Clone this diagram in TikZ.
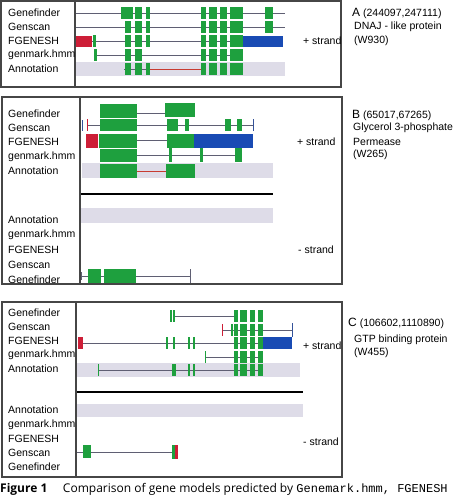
\documentclass[tikz,border=0pt]{standalone}
\usepackage{fontspec}
\setmainfont{Liberation Sans}
\newfontfamily\capfont{Open Sans}
\newfontfamily\capmono{Liberation Mono}
\definecolor{exg}{RGB}{30,160,62}
\definecolor{exr}{RGB}{205,30,55}
\definecolor{exb}{RGB}{25,75,180}
\definecolor{band}{RGB}{222,220,232}
\definecolor{trk}{RGB}{95,95,115}
\definecolor{frm}{RGB}{70,70,70}
\definecolor{anr}{RGB}{200,60,50}
\newcommand\ex[3]{\fill[exg] (#1,{#3-6}) rectangle (#2,{#3+6});}
\newcommand\exh[4]{\fill[exg] (#1,{#3-#4}) rectangle (#2,{#3+#4});}
\tikzset{
  frame/.style={draw=frm, line width=1.1pt},
  trackline/.style={draw=trk, line width=0.8pt},
  redline/.style={draw=anr, line width=0.8pt},
  strandline/.style={draw=black, line width=1.8pt},
  lbl/.style={anchor=west, inner sep=0pt, font=\fontsize{10.5}{12}\selectfont},
}
\begin{document}
\begin{tikzpicture}[x=1pt,y=-1pt]
\clip (0,0) rectangle (474,495);
\fill[white] (0,0) rectangle (474,495);

%% ================= Panel A =================
\fill[band] (75,62) rectangle (285,76);
\draw[trackline] (75,13) -- (285,13);
\draw[trackline] (75,27) -- (285,27);
\draw[trackline] (92,41) -- (243,41);
\draw[trackline] (94,55) -- (243,55);
\draw[trackline] (124,69) -- (150,69);
\draw[redline] (150,69) -- (201,69);
\fill[exr] (75,36) rectangle (92,47);
\fill[exb] (243,36) rectangle (283,47);
\foreach \a/\b in {121/133,135/142,146/150,201/206,209/217,220/227,230/243,265/273} {\ex{\a}{\b}{13}}
\foreach \a/\b in {125/131,135/142,146/150,201/206,209/217,220/227,230/243,265/273} {\ex{\a}{\b}{27}}
\foreach \a/\b in {93/96,125/131,135/142,146/150,201/206,209/217,220/227,230/243} {\ex{\a}{\b}{41}}
\foreach \a/\b in {94/97,125/131,135/142,201/206,209/217,220/227,230/243} {\ex{\a}{\b}{55}}
\foreach \a/\b in {125/131,135/142,146/150,201/206,209/217,220/227,230/243} {\ex{\a}{\b}{69}}
\draw[frame] (1,1) rectangle (341,87);
\draw[frame] (75,1) -- (75,87);
\node[lbl] (la1) at (8,13) {Genefinder};
\node[lbl] (la2) at (8,27) {Genscan};
\node[lbl] (la3) at (8,41) {FGENESH};
\node[lbl] (la4) at (8,55) {genmark.hmm};
\node[lbl] (la5) at (8,69) {Annotation};
\node[lbl] (pa) at (303,41) {+ strand};
\node[lbl] (ta1) at (352,13) {{\fontsize{12}{12}\selectfont A} (244097,247111)};
\node[lbl] (ta2) at (354,27) {DNAJ - like protein};
\node[lbl] (ta3) at (354,41) {(W930)};

%% ================= Panel B =================
\fill[band] (82,163) rectangle (273,178);
\draw[trackline] (137,113) -- (165,113);
\draw[trackline] (87,125) -- (253,125);
\draw[exb!60!trk, line width=1pt] (82,120) -- (82,131);
\draw[exr, line width=1pt] (87,119) -- (87,131);
\draw[exb!60!trk, line width=1pt] (253,119) -- (253,131);
\draw[trackline] (137,140) -- (167,140);
\draw[trackline] (137,155) -- (242,155);
\draw[redline] (137,171) -- (166,171);
\fill[exg] (100,104) rectangle (137,118);
\fill[exg] (165,103) rectangle (195,117);
\foreach \a/\b in {100/137,167/178,185/189,225/231,237/242} {\exh{\a}{\b}{125}{6}}
\fill[exr] (86,134) rectangle (98,148);
\fill[exg] (99,134) rectangle (137,148);
\fill[exg] (167,134) rectangle (194,148);
\fill[exb] (194,134) rectangle (253,148);
\fill[exg] (100,149) rectangle (137,162);
\foreach \a/\b in {169/171.5,200/202.5,235/242} {\exh{\a}{\b}{155}{7}}
\fill[exg] (100,164) rectangle (137,178);
\fill[exg] (166,164) rectangle (195,178);
\draw[strandline] (81,194) -- (273,194);
\fill[band] (81,208) rectangle (273,223);
\draw[trackline] (81,276) -- (190,276);
\draw[trackline] (81,272) -- (81,280);
\draw[trackline] (190,269) -- (190,283);
\fill[exg] (88,269) rectangle (101,283);
\fill[exg] (104,269) rectangle (136,283);
\draw[frame] (2,97) rectangle (342,284);
\draw[frame] (80,97) -- (80,284);
\node[lbl] (lb1) at (8,114) {Genefinder};
\node[lbl] (lb2) at (8,128) {Genscan};
\node[lbl] (lb3) at (8,142) {FGENESH};
\node[lbl] (lb4) at (8,157) {genmark.hmm};
\node[lbl] (lb5) at (8,171) {Annotation};
\node[lbl] (lb6) at (8,220) {Annotation};
\node[lbl] (lb7) at (8,235) {genmark.hmm};
\node[lbl] (lb8) at (8,250) {FGENESH};
\node[lbl] (lb9) at (8,265) {Genscan};
\node[lbl] (lb10) at (8,280) {Genefinder};
\node[lbl] (pb) at (297,142) {+ strand};
\node[lbl] (mb) at (298,250) {- strand};
\node[lbl] (tb1) at (352,115) {{\fontsize{12}{12}\selectfont B} (65017,67265)};
\node[lbl] (tb2) at (353,128) {Glycerol 3-phosphate};
\node[lbl] (tb3) at (353,142) {Permease};
\node[lbl] (tb4) at (353,155) {(W265)};

%% ================= Panel C =================
\fill[band] (77,363) rectangle (300,377);
\draw[trackline] (175,316) -- (234,316);
\draw[trackline] (222,330) -- (292,330);
\draw[exr, line width=1pt] (222,324) -- (222,336);
\draw[exb!60!trk, line width=1pt] (292,323) -- (292,337);
\draw[trackline] (83,343) -- (263,343);
\draw[trackline] (205,357) -- (258,357);
\draw[exg, line width=1pt] (205,351) -- (205,363);
\draw[trackline] (98,370) -- (258,370);
\draw[exg, line width=1pt] (98,364) -- (98,376);
\fill[exg] (170,310) rectangle (172,322);
\fill[exg] (173,310) rectangle (175,322);
\fill[exg] (231,324) rectangle (233,336);
\fill[exr] (78,337) rectangle (83,349);
\fill[exb] (263,337) rectangle (292,349);
\foreach \a in {165.5,172.5,187.5,192.5} {\fill[exg] (\a,337) rectangle (\a+2,349);}
\fill[exg] (172,364) rectangle (176,376);
\foreach \a in {187.5,192.5} {\fill[exg] (\a,364) rectangle (\a+2,376);}
\foreach \r in {316,330,343,357,370} {
  \foreach \a/\b in {234/238,240/247,250/255,258/263} {\exh{\a}{\b}{\r}{6}}
}
\draw[strandline] (77,392) -- (303,392);
\fill[band] (77,404) rectangle (303,417);
\draw[trackline] (77,452) -- (173,452);
\fill[exg] (83,445) rectangle (91,458);
\fill[exg] (172,445) rectangle (175,459);
\fill[exr] (175,445) rectangle (177.5,459);
\draw[frame] (2,302) rectangle (342,477);
\draw[frame] (76,302) -- (76,477);
\node[lbl] (lc1) at (8,313) {Genefinder};
\node[lbl] (lc2) at (8,327) {Genscan};
\node[lbl] (lc3) at (8,341) {FGENESH};
\node[lbl] (lc4) at (8,355) {genmark.hmm};
\node[lbl] (lc5) at (8,369) {Annotation};
\node[lbl] (lc6) at (8,410) {Annotation};
\node[lbl] (lc7) at (8,425) {genmark.hmm};
\node[lbl] (lc8) at (8,439) {FGENESH};
\node[lbl] (lc9) at (8,453) {Genscan};
\node[lbl] (lc10) at (8,467) {Genefinder};
\node[lbl] (pc) at (303,346) {+ strand};
\node[lbl] (mc) at (303,442) {- strand};
\node[lbl] (tc1) at (348,323) {{\fontsize{12}{12}\selectfont C} (106602,1110890)};
\node[lbl] (tc2) at (354,340) {GTP binding protein};
\node[lbl] (tc3) at (354,353) {(W455)};

%% caption
\node[anchor=base west, inner sep=0pt, font=\fontsize{12}{12}\selectfont] (cap) at (0,492)
  {{\capfont\bfseries Figure 1}\hspace{1.3em}{\capfont Comparison of gene models predicted by} {\capmono Genemark.hmm, FGENESH}};
\end{tikzpicture}
\end{document}
